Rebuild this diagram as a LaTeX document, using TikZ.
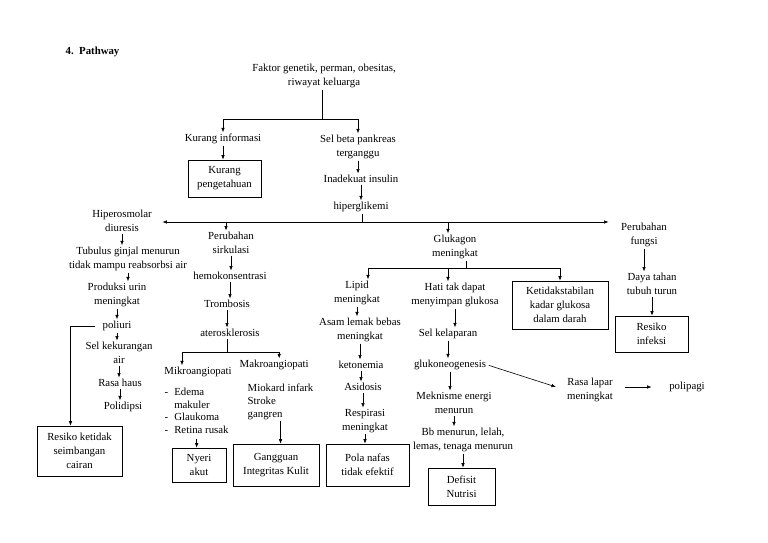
\documentclass[tikz,border=0pt]{standalone}
\usepackage{fontspec}
\setmainfont{Liberation Serif}
\usetikzlibrary{arrows.meta,calc,positioning}
\tikzset{
  txt/.style={align=center,inner sep=1.5pt,font=\fontsize{10.8}{14}\selectfont},
  kotak/.style={txt,draw,line width=0.6pt},
  arr/.style={-{Latex[length=4.5pt,width=3.5pt]},line width=0.6pt},
  garis/.style={line width=0.6pt}
}
\begin{document}
\begin{tikzpicture}[x=1pt,y=-1pt]
\useasboundingbox (0,0) rectangle (768,543);
\node[txt,anchor=west,font=\fontsize{10.8}{14}\bfseries] (judul) at (64,52) {4.\ \ Pathway};
%--- atas ---
\node[txt] (faktor) at (324,76) {Faktor genetik, perman, obesitas,\\riwayat keluarga};
\node[txt] (kinfo) at (223,139) {Kurang informasi};
\node[kotak,minimum width=73,minimum height=37] (kpeng) at (224.5,178.5) {Kurang\\pengetahuan};
\node[txt] (selbeta) at (358,147) {Sel beta pankreas\\terganggu};
\node[txt] (inadekuat) at (361,179) {Inadekuat insulin};
\node[txt] (hiper) at (361,207) {hiperglikemi};
\coordinate (j1) at (322,119);
\coordinate (j2) at (362,222);
%--- kiri ---
\node[txt] (hiperos) at (122,221) {Hiperosmolar\\diuresis};
\node[txt] (tubulus) at (128,259) {Tubulus ginjal menurun\\tidak mampu reabsorbsi air};
\node[txt] (produksi) at (117,295) {Produksi urin\\meningkat};
\node[txt] (poliuri) at (117,326) {poliuri};
\node[txt] (selkur) at (119,353) {Sel kekurangan\\air};
\node[txt] (haus) at (120,383) {Rasa haus};
\node[txt] (polidipsi) at (123,407) {Polidipsi};
\node[kotak,minimum width=85,minimum height=50] (rkc) at (79.5,451) {Resiko ketidak\\seimbangan\\cairan};
%--- sirkulasi ---
\node[txt] (sirk) at (231,243) {Perubahan\\sirkulasi};
\node[txt] (hemo) at (230,276) {hemokonsentrasi};
\node[txt] (trombo) at (227,304) {Trombosis};
\node[txt] (ateros) at (230,333) {aterosklerosis};
\coordinate (j4) at (227,352);
\node[txt] (mikro) at (198,372) {Mikroangiopati};
\node[txt,anchor=west] (makro) at (238,365) {Makroangiopati};
\node[txt,anchor=north west] (mlist) at (163,384) {\begin{tabular}{@{}l@{\hspace{6pt}}l@{}}
- & Edema\\[-1.5pt] & makuler\\[-1.5pt] - & Glaukoma\\[-1.5pt] - & Retina rusak\end{tabular}};
\node[txt,anchor=north west,align=left] (mklist) at (246,382) {Miokard infark\\[-1pt]Stroke\\[-1pt]gangren};
\node[kotak,minimum width=54,minimum height=34] (nyeri) at (199,465) {Nyeri\\akut};
\node[kotak,minimum width=86,minimum height=42] (ggn) at (276,465) {Gangguan\\Integritas Kulit};
%--- glukagon ---
\node[txt] (gluk) at (455,247) {Glukagon\\meningkat};
\coordinate (j3) at (466,268);
\node[txt] (lipid) at (357,293) {Lipid\\meningkat};
\node[txt] (asam) at (360,330) {Asam lemak bebas\\meningkat};
\node[txt] (keton) at (361,365) {ketonemia};
\node[txt] (asidosis) at (363,387) {Asidosis};
\node[txt] (respi) at (365,421) {Respirasi\\meningkat};
\node[kotak,minimum width=83,minimum height=42] (pola) at (367.5,465) {Pola nafas\\tidak efektif};
\node[txt] (hati) at (455,295) {Hati tak dapat\\menyimpan glukosa};
\node[txt] (selkel) at (448,334) {Sel kelaparan};
\node[txt] (glukoneo) at (450,365) {glukoneogenesis};
\node[txt] (mekanisme) at (454,403) {Meknisme energi\\menurun};
\node[txt] (bb) at (463,440) {Bb menurun, lelah,\\lemas, tenaga menurun};
\node[kotak,minimum width=67,minimum height=37] (defisit) at (461.5,486.5) {Defisit\\Nutrisi};
\node[kotak,minimum width=96,minimum height=48] (ketstab) at (560,305) {Ketidakstabilan\\kadar glukosa\\dalam darah};
\node[txt] (lapar) at (590,390) {Rasa lapar\\meningkat};
\node[txt] (polipagi) at (687,387) {polipagi};
%--- kanan ---
\node[txt] (fungsi) at (644,235) {Perubahan\\fungsi};
\node[txt] (daya) at (652,284) {Daya tahan\\tubuh turun};
\node[kotak,minimum width=73,minimum height=36] (infeksi) at (651.5,334) {Resiko\\infeksi};

% percabangan
\draw[garis] (faktor.south -| j1) -- (j1);
\draw[arr] (j1) -| (kinfo.north);
\draw[arr] (j1) -| (selbeta.north);
\draw[garis] (hiper.south -| j2) -- (j2);
\draw[arr,shorten >=9pt] (j2) -- (hiperos.east |- j2);
\draw[arr,shorten >=11pt] (j2) -- (fungsi.west |- j2);
\draw[arr] ([xshift=-5pt]sirk.north |- j2) -- ([xshift=-5pt]sirk.north);
\draw[arr] ([xshift=-7pt]gluk.north |- j2) -- ([xshift=-7pt]gluk.north);
\draw[garis] (gluk.south -| j3) -- (j3);
\draw[arr] (j3) -| ([xshift=11pt]lipid.north);
\draw[arr] (j3) -| ([xshift=-7pt]hati.north);
\draw[arr] (j3) -| (ketstab.north);
\draw[garis] (ateros.south -| j4) -- (j4);
\draw[arr] (j4) -| ([xshift=-16pt]mikro.north);
\draw[arr] (j4) -| ([xshift=5pt]makro.north);
\draw[arr,shorten <=6pt] (poliuri.west) -| ([xshift=-9pt]rkc.north);
% alur ke bawah
\foreach \a/\b in {kinfo/kpeng,selbeta/inadekuat,inadekuat/hiper,
  hiperos/tubulus,tubulus/produksi,produksi/poliuri,poliuri/selkur,
  selkur/haus,haus/polidipsi,sirk/hemo,hemo/trombo,trombo/ateros,
  lipid/asam,asam/keton,keton/asidosis,asidosis/respi,respi/pola,
  hati/selkel,selkel/glukoneo,glukoneo/mekanisme,mekanisme/bb,bb/defisit,
  fungsi/daya,daya/infeksi,mlist/nyeri,mklist/ggn}{
  \draw[arr] (\a.south) -- (\a.south |- \b.north);
}
\draw[arr,shorten <=1pt,shorten >=10pt] (glukoneo.east) -- (lapar.west);
\draw[arr,shorten <=10pt,shorten >=16pt] (lapar.east |- polipagi.west) -- (polipagi.west);
\end{tikzpicture}
\end{document}
